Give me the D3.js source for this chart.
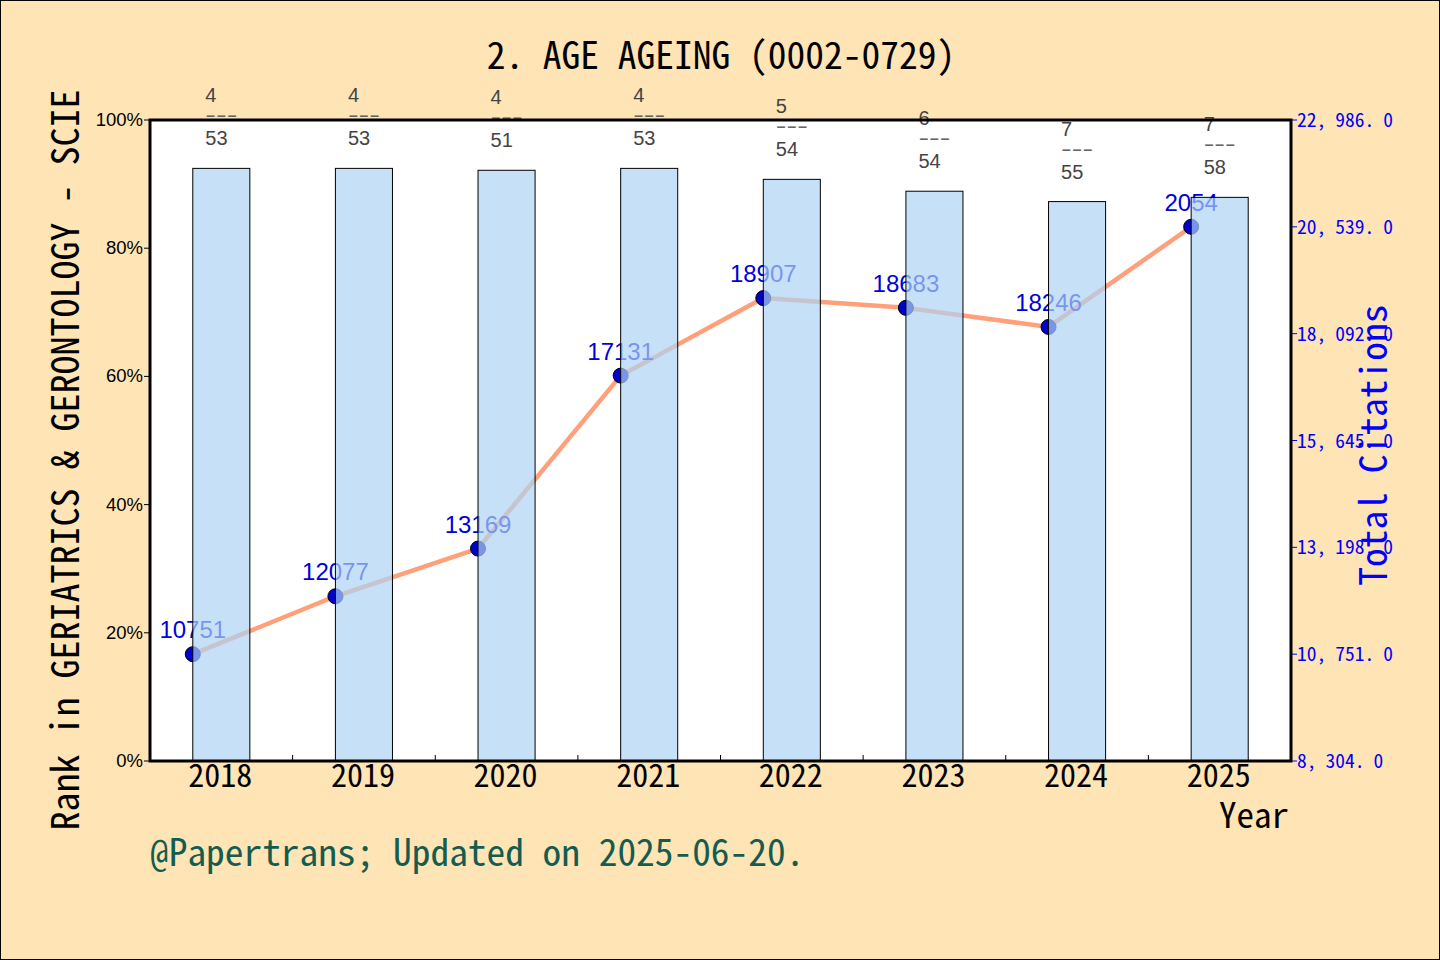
<!DOCTYPE html>
<html><head><meta charset="utf-8">
<script src="https://cdn.jsdelivr.net/npm/d3@7"></script>
<style>
html,body{margin:0;padding:0;background:#FFE4B5;}
svg{display:block;}
.cjk{font-family:"Noto Sans Mono CJK SC","Noto Sans CJK SC","DejaVu Sans Mono",monospace;}
.sans{font-family:"Liberation Sans",Arial,sans-serif;}
</style></head>
<body>
<svg id="chart" width="1440" height="960"></svg>
<script>
// ---- data ----
const years = ["2018","2019","2020","2021","2022","2023","2024","2025"];
const ranks = [4,4,4,4,5,6,7,7];
const totals = [53,53,51,53,54,54,55,58];
const citations = [10751,12077,13169,17131,18907,18683,18246,20540];
const citationLabels = ["10751","12077","13169","17131","18907","18683","18246","2054"];
const leftTicks = [0,0.2,0.4,0.6,0.8,1.0];
const rightTicks = [8304,10751,13198,15645,18092,20539,22986];
const title = "2. AGE AGEING (0002-0729)";
const yLabel = "Rank in GERIATRICS & GERONTOLOGY - SCIE";
const y2Label = "Total Citations";
const xLabel = "Year";
const footer = "@Papertrans; Updated on 2025-06-20.";

// ---- layout ----
const L = 150, R = 1291, T = 120, B = 761;
const svg = d3.select("#chart");
svg.append("rect").attr("x",0.5).attr("y",0.5).attr("width",1439).attr("height",959)
  .attr("fill","#FFE4B5").attr("stroke","#000").attr("stroke-width",1);
svg.append("rect").attr("x",L).attr("y",T).attr("width",R-L).attr("height",B-T).attr("fill","#fff");

const x = d3.scaleBand().domain(years).range([L,R]).padding(0);
const step = x.bandwidth();
const yL = d3.scaleLinear().domain([0,1]).range([B,T]);
const yR = d3.scaleLinear().domain([8304,22986]).range([B,T]);
const px = d => x(d) + step*0.3;   // left edge of bar

const pct = ranks.map((r,i)=>1 - r/totals[i]);

// line
const pts = years.map((yr,i)=>[px(yr), yR(citations[i])]);
svg.append("path").attr("d", d3.line()(pts)).attr("fill","none")
  .attr("stroke","#FFA07A").attr("stroke-width",4.5).attr("stroke-linejoin","round");
svg.selectAll("circle.pt").data(years).enter().append("circle")
  .attr("cx",d=>px(d)).attr("cy",(d,i)=>yR(citations[i])).attr("r",7.5)
  .attr("fill","#0000CD").attr("stroke","#000").attr("stroke-width",1);
svg.selectAll("text.cl").data(years).enter().append("text").attr("class","sans")
  .attr("x",d=>px(d)).attr("y",(d,i)=>yR(citations[i])-16)
  .attr("text-anchor","middle").attr("font-size",24).attr("fill","#0000DD")
  .text((d,i)=>citationLabels[i]);

// bars (semi-transparent, on top)
svg.selectAll("rect.bar").data(years).enter().append("rect")
  .attr("x",d=>x(d)+step*0.3).attr("width",step*0.4)
  .attr("y",(d,i)=>yL(pct[i])).attr("height",(d,i)=>B-yL(pct[i]))
  .attr("fill","#ACD3F4").attr("fill-opacity",0.7).attr("stroke","#000").attr("stroke-width",1);

// rank labels
years.forEach((yr,i)=>{
  const top = yL(pct[i]);
  const lx = x(yr)+step/2-16;
  const g = svg.append("g").attr("class","sans").attr("fill","#444");
  g.append("text").attr("x",lx).attr("y",top-66).attr("font-size",20).text(ranks[i]);
  g.append("text").attr("x",lx).attr("y",top-46).attr("font-size",20).attr("fill","#666")
    .attr("textLength",32).attr("lengthAdjust","spacingAndGlyphs").text("---");
  g.append("text").attr("x",lx).attr("y",top-23).attr("font-size",20).text(totals[i]);
});

// x axis minor ticks at band boundaries (inward)
years.slice(1).forEach(yr=>{
  svg.append("line").attr("x1",x(yr)).attr("x2",x(yr)).attr("y1",B).attr("y2",B-6)
    .attr("stroke","#000").attr("stroke-width",1);
});
svg.selectAll("text.xt").data(years).enter().append("text").attr("class","cjk")
  .attr("x",d=>x(d)+step/2-1).attr("y",787).attr("text-anchor","middle")
  .attr("font-size",32).attr("fill","#000").text(d=>d);

// left axis
leftTicks.forEach(t=>{
  svg.append("line").attr("x1",L-6).attr("x2",L).attr("y1",yL(t)).attr("y2",yL(t)).attr("stroke","#000");
  svg.append("text").attr("class","sans").attr("x",143).attr("y",yL(t)+6)
    .attr("text-anchor","end").attr("font-size",18.5).attr("fill","#000").text(d3.format(".0%")(t));
});
// right axis
const fmt = d3.format(",.1f");
rightTicks.forEach(t=>{
  svg.append("line").attr("x1",R).attr("x2",R+6).attr("y1",yR(t)).attr("y2",yR(t)).attr("stroke","#0000FF");
  const s = fmt(t);
  const dx = [2];
  for(let k=1;k<s.length;k++){ dx.push((s[k-1]===","||s[k-1]===".")?9:0); }
  svg.append("text").attr("class","cjk").attr("x",R+4).attr("y",yR(t)+7)
    .attr("dx",dx.join(" ")).attr("font-size",19.5).attr("fill","#0000FF").text(s);
});

// frame
svg.append("rect").attr("x",L).attr("y",T).attr("width",R-L).attr("height",B-T)
  .attr("fill","none").attr("stroke","#000").attr("stroke-width",3);

// labels
svg.append("text").attr("class","cjk").attr("x",721).attr("y",69).attr("text-anchor","middle")
  .attr("font-size",37.5).attr("fill","#000").text(title);
svg.append("text").attr("class","cjk").attr("transform","translate(79,460) rotate(-90)")
  .attr("text-anchor","middle").attr("font-size",38).attr("fill","#000").text(yLabel);
svg.append("text").attr("class","cjk").attr("transform","translate(1387,445) rotate(-90)")
  .attr("text-anchor","middle").attr("font-size",37.5).attr("fill","#0000FF").text(y2Label);
svg.append("text").attr("class","cjk").attr("x",1289).attr("y",828).attr("text-anchor","end")
  .attr("font-size",35).attr("fill","#000").text(xLabel);
svg.append("text").attr("class","cjk").attr("x",150).attr("y",866)
  .attr("font-size",37.4).attr("fill","#135C4F").text(footer);
</script>
</body></html>
